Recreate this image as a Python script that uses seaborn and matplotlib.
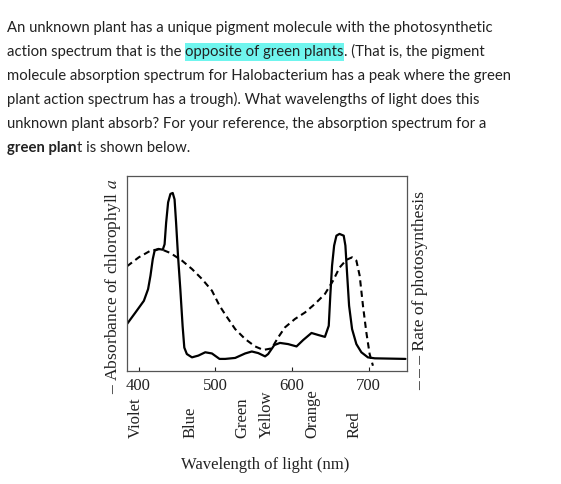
import numpy as np
import pandas as pd
import matplotlib
matplotlib.use("Agg")
import matplotlib.pyplot as plt
import matplotlib.transforms as mtransforms
import seaborn as sns

# Absorbance of chlorophyll a (solid line), arbitrary units 0-100
abs_wl = [385, 396, 407, 412.5, 415.6, 418.6, 421, 426, 431.6, 434, 436, 438.6,
          441.6, 444.6, 447, 449, 451.5, 454.5, 457.5, 459.7, 463, 469.7, 478,
          487, 495.7, 505.6, 513, 526, 539, 547.7, 556, 565, 569, 577, 584.4,
          595, 606, 614.7, 625.5, 634, 643, 648, 650, 652.3, 655, 658, 662,
          667.5, 669.7, 671.8, 674.5, 678.4, 684, 690.5, 699, 708, 748]
abs_val = [24.1, 30, 36, 42, 48.9, 57.4, 61.7, 62.6, 62.2, 65, 76, 86.5,
           90.8, 91.3, 88, 76, 59, 42, 23, 12, 8.7, 7, 7.9,
           9.6, 9, 6.2, 6.2, 6.7, 9, 10, 9.2, 7.5, 8.7, 13.3, 14.4,
           13.8, 12.6, 15.9, 19.5, 18.5, 17.5, 23.2, 38.6, 54, 64.3, 69.4, 70.3,
           69.4, 64.3, 50.6, 33.5, 21.5, 13.8, 9.6, 7, 6.5, 6.2]

# Rate of photosynthesis (dashed line)
rate_wl = [385, 400.4, 415.6, 428.6, 441.6, 456.7, 469.7, 482.7, 495.7, 505.6,
           513, 526, 539, 552, 562.7, 573.6, 582, 591, 604, 617, 630, 643,
           653.6, 662, 671, 678.4, 684, 688.3, 692.6, 697, 701.3, 705.6]
rate_val = [53.7, 58.3, 61.7, 62.6, 60.5, 56.6, 52.3, 47.2, 41.2, 33.5,
            29, 21.5, 16.4, 12.6, 10.8, 11.6, 17.2, 22.4, 26.7, 30, 34.4, 39.5,
            46.3, 53, 57, 58.3, 56.6, 48.9, 33.5, 19.8, 8.7, 2.7]

x_ticks = [400, 500, 600, 700]
color_names = ["Violet", "Blue", "Green", "Yellow", "Orange", "Red"]
color_pos = [396, 467.5, 535, 567.5, 626, 682]

question_lines = [
    [("An unknown plant has a unique pigment molecule with the photosynthetic", "normal", False)],
    [("action spectrum that is the ", "normal", False),
     ("opposite of green plants", "normal", True),
     (". (That is, the pigment", "normal", False)],
    [("molecule absorption spectrum for Halobacterium has a peak where the green", "normal", False)],
    [("plant action spectrum has a trough). What wavelengths of light does this", "normal", False)],
    [("unknown plant absorb? For your reference, the absorption spectrum for a", "normal", False)],
    [("green plan", "bold", False), ("t is shown below.", "normal", False)],
]

df_abs = pd.DataFrame({"wl": abs_wl, "val": abs_val})
df_rate = pd.DataFrame({"wl": rate_wl, "val": rate_val})

sns.set_theme(style="white")
plt.rcParams["font.family"] = ["Liberation Serif", "DejaVu Serif"]
plt.rcParams["mathtext.fontset"] = "stix"

W, H = 561, 485
fig = plt.figure(figsize=(W / 100, H / 100), dpi=100)
ax = fig.add_axes([127 / W, 1 - 372 / H, 280 / W, 195 / H])

sns.lineplot(data=df_abs, x="wl", y="val", ax=ax, color="black", lw=1.6,
             sort=False, estimator=None)
sns.lineplot(data=df_rate, x="wl", y="val", ax=ax, color="black", lw=1.5,
             sort=False, estimator=None, linestyle=(0, (3, 2)))

ax.set_xlim(385, 750)
ax.set_ylim(0, 100)
ax.set_xticks(x_ticks)
ax.set_yticks([])
ax.tick_params(axis="x", direction="in", length=3, width=0.8, pad=4,
               labelsize=12, colors="#222222", bottom=True)
ax.set_xlabel("")
ax.set_ylabel("")
for sp in ax.spines.values():
    sp.set_color("#555555")
    sp.set_linewidth(0.9)

# colour names under the axis
trans = mtransforms.blended_transform_factory(ax.transData, fig.transFigure)
for name, pos in zip(color_names, color_pos):
    ax.text(pos, 1 - 438 / H, name, rotation=90, ha="center", va="bottom",
            fontsize=12, color="#222222", transform=trans, clip_on=False)

fig.text(265 / W, 1 - 465 / H, "Wavelength of light (nm)", ha="center",
         va="center", fontsize=12, color="#222222")
fig.text(113 / W, 1 - 286 / H, "– Absorbance of chlorophyll $a$", rotation=90,
         ha="center", va="center", fontsize=12.6, color="#222222")
fig.text(420 / W, 1 - 290 / H, "– – – Rate of photosynthesis", rotation=90,
         ha="center", va="center", fontsize=12.6, color="#222222")

# question text above the chart
renderer = fig.canvas.get_renderer()
FS = 10.7


def advance(txt, weight):
    t1 = fig.text(0, 0, txt + ".", fontsize=FS, family="Lato", fontweight=weight)
    t2 = fig.text(0, 0, ".", fontsize=FS, family="Lato", fontweight=weight)
    w = t1.get_window_extent(renderer).width - t2.get_window_extent(renderer).width
    t1.remove()
    t2.remove()
    return w


base = 32
for i, line in enumerate(question_lines):
    y = 1 - (base + i * 24) / H
    x = 7.0
    for txt, weight, hl in line:
        w = advance(txt, weight)
        if hl:
            fig.patches.append(plt.Rectangle((x / W, 1 - (base + i * 24 + 6) / H),
                                             w / W, 18 / H, transform=fig.transFigure,
                                             facecolor="#6ff5ee", edgecolor="none",
                                             zorder=0))
        fig.text(x / W, y, txt, fontsize=FS, family="Lato", fontweight=weight,
                 color="#222222", va="baseline", zorder=2)
        x += w

fig.savefig("out.png", dpi=100)
